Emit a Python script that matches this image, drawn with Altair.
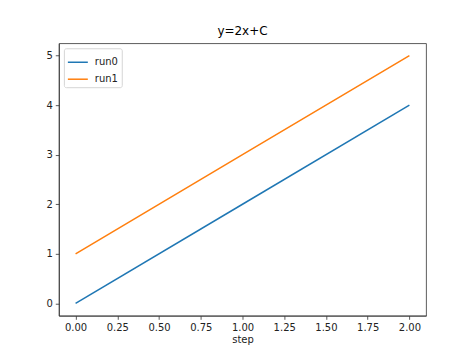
import altair as alt
import pandas as pd

steps = [0.0, 1.0, 2.0]
run0 = [0.0, 2.0, 4.0]
run1 = [1.0, 3.0, 5.0]
series_names = ["run0", "run1"]
colors = ["#1f77b4", "#ff7f0e"]
x_ticks = [0.0, 0.25, 0.5, 0.75, 1.0, 1.25, 1.5, 1.75, 2.0]
y_ticks = [0, 1, 2, 3, 4, 5]

rows = []
for name, vals in zip(series_names, [run0, run1]):
    for s, v in zip(steps, vals):
        rows.append({"step": s, "value": v, "run": name})
df = pd.DataFrame(rows)

font = "DejaVu Sans"

chart = alt.Chart(df).mark_line(strokeWidth=1.5).encode(
    x=alt.X("step:Q", title="step",
            scale=alt.Scale(domain=[-0.1, 2.1], nice=False, zero=False),
            axis=alt.Axis(values=x_ticks, format=".2f", grid=False, tickSize=3.6,
                          labelFontSize=10, titleFontSize=10, titlePadding=2,
                          labelPadding=3, titleFontWeight="normal")),
    y=alt.Y("value:Q", title=None,
            scale=alt.Scale(domain=[-0.25, 5.25], nice=False, zero=False),
            axis=alt.Axis(values=y_ticks, format="d", grid=False, tickSize=3.6,
                          labelFontSize=10, labelPadding=3)),
    color=alt.Color("run:N", scale=alt.Scale(domain=series_names, range=colors),
                    legend=alt.Legend(title=None, orient="top-left", offset=5,
                                      symbolType="stroke", symbolStrokeWidth=1.5,
                                      symbolSize=400, labelFontSize=10,
                                      strokeColor="#d5d5d5", fillColor="white",
                                      padding=3, cornerRadius=2, rowPadding=1,
                                      labelOffset=6)),
).properties(
    width=368, height=273,
    title=alt.Title("y=2x+C", fontSize=12, fontWeight="normal", font=font, offset=5),
    autosize=alt.AutoSizeParams(type="none"),
    padding={"left": 51, "top": 35, "right": 40, "bottom": 30},
).configure(font=font).configure_view(
    stroke="#333333", strokeWidth=0.8
).configure_axis(
    domainColor="#333333", tickColor="#333333", labelColor="#222222",
    titleColor="#222222", labelFont=font, titleFont=font, domainWidth=0.8, tickWidth=0.8
).configure_legend(labelFont=font, labelColor="#222222")

chart.save("out.html", embed_options={"renderer": "svg", "actions": False})
